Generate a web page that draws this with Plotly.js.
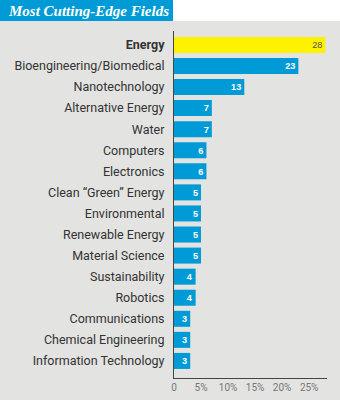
<!DOCTYPE html>
<html>
<head>
<meta charset="utf-8">
<script src="https://cdn.plot.ly/plotly-3.0.1.min.js"></script>
<style>
  body { margin: 0; padding: 0; background: #fff; }
  #chart { width: 340px; height: 400px; }
</style>
</head>
<body>
<div id="chart"></div>
<script>
var fields = [
  'Energy', 'Bioengineering/Biomedical', 'Nanotechnology', 'Alternative Energy',
  'Water', 'Computers', 'Electronics', 'Clean \u201cGreen\u201d Energy',
  'Environmental', 'Renewable Energy', 'Material Science', 'Sustainability',
  'Robotics', 'Communications', 'Chemical Engineering', 'Information Technology'
];
var percents = [28, 23, 13, 7, 7, 6, 6, 5, 5, 5, 5, 4, 4, 3, 3, 3];
var tickVals = [0, 5, 10, 15, 20, 25];
var tickText = ['0', '5%', '10%', '15%', '20%', '25%'];

var blue = '#009bd6';
var yellow = '#fff200';

// plotly draws horizontal bars bottom-up, so flip the order
var ys = fields.slice().reverse();
var xs = percents.slice().reverse();
var colors = xs.map(function(v, i) { return ys[i] === 'Energy' ? yellow : blue; });
var textColors = xs.map(function(v, i) { return ys[i] === 'Energy' ? '#555555' : '#ffffff'; });
var labels = xs.map(function(v, i) { return ys[i] === 'Energy' ? String(v) : '<b>' + v + '</b>'; });
var tickLabels = ys.map(function(f) { return f === 'Energy' ? '<b>Energy</b>' : f; });

var data = [{
  type: 'bar',
  orientation: 'h',
  x: xs,
  y: ys,
  marker: { color: colors },
  text: labels,
  textposition: 'inside',
  insidetextanchor: 'end',
  textangle: 0,
  textfont: { family: 'Liberation Sans, Arial', size: 11, color: textColors },
  cliponaxis: false,
  hoverinfo: 'none'
}];

var layout = {
  width: 340,
  height: 400,
  margin: { l: 174, r: 13, t: 31, b: 22 },
  paper_bgcolor: '#e3e3e1',
  plot_bgcolor: '#e3e3e1',
  showlegend: false,
  bargap: 0.24,
  xaxis: {
    range: [0, 28.3],
    tickvals: tickVals,
    ticktext: tickText,
    showgrid: false,
    zeroline: false,
    showline: true,
    linecolor: '#444444',
    linewidth: 1,
    ticks: '',
    tickfont: { family: 'Roboto, Arial', size: 10, color: '#777777' },
    fixedrange: true
  },
  yaxis: {
    type: 'category',
    categoryorder: 'array',
    categoryarray: ys,
    tickvals: ys,
    ticktext: tickLabels,
    range: [-0.81, 15.66],
    showgrid: false,
    zeroline: false,
    showline: true,
    linecolor: '#444444',
    linewidth: 1,
    ticks: '',
    ticklabelstandoff: 6,
    tickfont: { family: 'Roboto, Arial', size: 12.5, color: '#333333' },
    fixedrange: true
  },
  shapes: [
    // white strip on top
    { type: 'rect', xref: 'paper', yref: 'paper', x0: -1.2, x1: 1.2, y0: 1.0288, y1: 1.1,
      fillcolor: '#ffffff', line: { width: 0 }, layer: 'below' },
    // blue title tab
    { type: 'rect', xref: 'paper', yref: 'paper', x0: -1.2, x1: -0.0065, y0: 1.0288, y1: 1.1,
      fillcolor: blue, line: { width: 0 }, layer: 'below' }
  ],
  annotations: [{
    xref: 'paper', yref: 'paper',
    x: -1.098, y: 1.059,
    xanchor: 'left', yanchor: 'middle',
    text: '<b><i>Most Cutting-Edge Fields</i></b>',
    showarrow: false,
    font: { family: 'Liberation Serif, serif', size: 15, color: '#ffffff' }
  }]
};

Plotly.newPlot('chart', data, layout, { displayModeBar: false, staticPlot: true });
</script>
</body>
</html>
